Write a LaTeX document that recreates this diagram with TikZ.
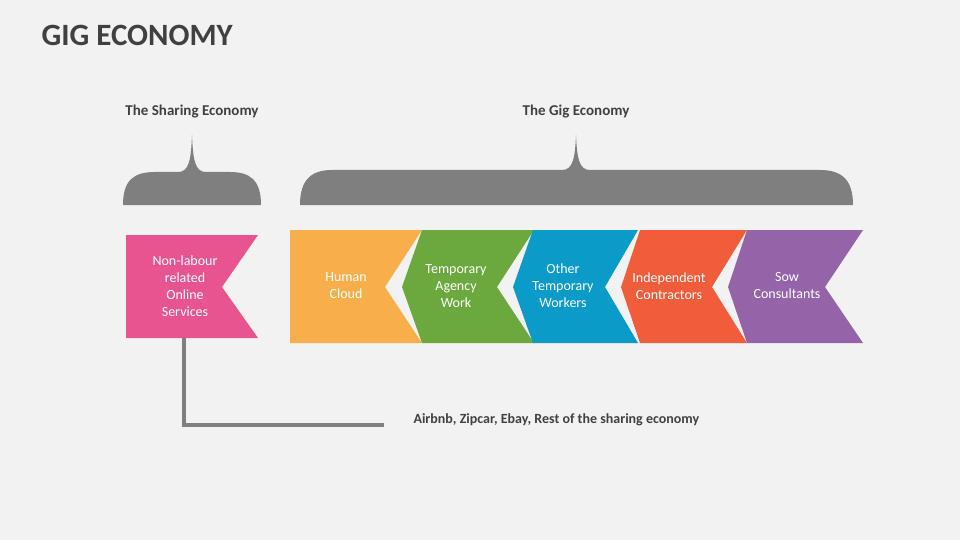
\documentclass[tikz,border=0pt]{standalone}
\usepackage{fontspec}
\setmainfont{Carlito}
\definecolor{bg}{HTML}{F2F2F2}
\definecolor{ttl}{HTML}{404040}
\definecolor{gr}{HTML}{7F7F7F}
\definecolor{cpink}{HTML}{E8548F}
\definecolor{corange}{HTML}{F8AE4A}
\definecolor{cgreen}{HTML}{6BA93F}
\definecolor{cblue}{HTML}{0A9BC8}
\definecolor{cred}{HTML}{F05D3B}
\definecolor{cpurple}{HTML}{9563A8}
\tikzset{lbl/.style={text=white,font=\fontsize{14}{17}\selectfont,align=center},
hdr/.style={text=ttl,font=\bfseries\fontsize{15}{18}\selectfont}}
\begin{document}
\begin{tikzpicture}[x=1pt,y=-1pt]
\fill[bg] (0,0) rectangle (960,540);
\useasboundingbox (0,0) rectangle (960,540);
\node[anchor=west,text=ttl,font=\bfseries\fontsize{31}{36}\selectfont] (title) at (38,35) {GIG ECONOMY};
\node[hdr] (h1) at (192,112) {The Sharing Economy};
\node[hdr] (h2) at (576,112) {The Gig Economy};
% brackets
\fill[gr] (123,205) -- (261,205) .. controls (261,180) and (250,172) .. (230,172) -- (206,172) .. controls (195,172) and (193,160) .. (192,135) .. controls (191,160) and (189,172) .. (178,172) -- (155,172) .. controls (134,172) and (123,180) .. (123,205) -- cycle;
\fill[gr] (300,205) -- (853,205) .. controls (853,180) and (842,170) .. (820,170) -- (590,170) .. controls (579,170) and (577,158) .. (576,135) .. controls (575,158) and (573,170) .. (562,170) -- (332,170) .. controls (311,170) and (300,180) .. (300,205) -- cycle;
% pink
\fill[cpink] (126,235) -- (258,235) -- (222,287) -- (258,338) -- (126,338) -- cycle;
\node[lbl] (p) at (185,286) {Non-labour\\related\\Online\\Services};
% chevrons
\fill[corange] (290,230) -- (422,230) -- (385,287) -- (422,343) -- (290,343) -- cycle;
\fill[cgreen] (402,287) -- (422,230) -- (534,230) -- (497,287) -- (534,343) -- (422,343) -- cycle;
\fill[cblue] (513,287) -- (533,230) -- (638,230) -- (605,287) -- (638,343) -- (533,343) -- cycle;
\fill[cred] (621,287) -- (640,230) -- (747,230) -- (712,287) -- (747,343) -- (640,343) -- cycle;
\fill[cpurple] (728,287) -- (747,230) -- (863,230) -- (825,287) -- (863,343) -- (747,343) -- cycle;
\node[lbl] (c1) at (346,286) {Human\\Cloud};
\node[lbl] (c2) at (456,286) {Temporary\\Agency\\Work};
\node[lbl] (c3) at (563,286) {Other\\Temporary\\Workers};
\node[lbl] (c4) at (669,286) {Independent\\Contractors};
\node[lbl] (c5) at (787,286) {Sow\\Consultants};
% connector
\coordinate (ps) at (184,338);
\coordinate (pe) at (384,425);
\node[anchor=west,text=ttl,font=\bfseries\fontsize{14}{17}\selectfont] (ex) at (410,420) {Airbnb, Zipcar, Ebay, Rest of the sharing economy};
\draw[gr,line width=4] (ps) |- (pe);
\end{tikzpicture}
\end{document}
